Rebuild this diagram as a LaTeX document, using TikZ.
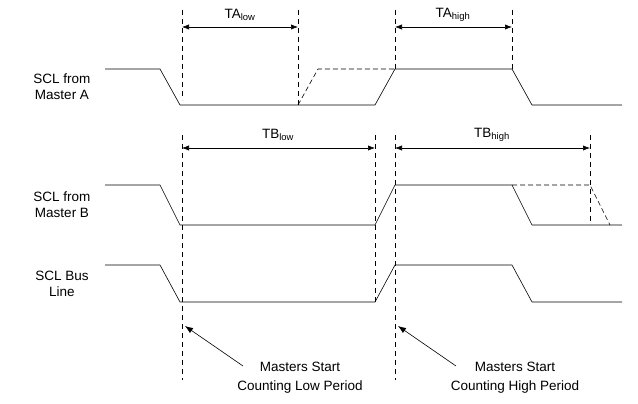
\documentclass[tikz,border=0pt]{standalone}
\usepackage{fontspec}
\setmainfont{Liberation Sans}
\usetikzlibrary{arrows.meta}
\begin{document}
\begin{tikzpicture}[x=1pt,y=-1pt,
  sig/.style={line width=0.6pt},
  dsig/.style={line width=0.6pt,dash pattern=on 5pt off 3pt},
  vl/.style={line width=0.6pt,dash pattern=on 5pt off 4pt},
  dim/.style={line width=0.6pt,{Latex[length=7pt]}-{Latex[length=7pt]}},
  lbl/.style={font=\fontsize{13.5}{16}\selectfont,align=center},
  note/.style={font=\fontsize{13.5}{19}\selectfont,align=center},
  pt/.style={line width=0.6pt,-{Latex[length=8pt]}}]
\useasboundingbox (0,0) rectangle (638,404);
% labels
\node[lbl] (la) at (62,87) {SCL from\\Master A};
\node[lbl] (lb) at (62,205) {SCL from\\Master B};
\node[lbl] (lc) at (62,284) {SCL Bus\\Line};
% signals
\draw[sig] (105,69) -- (160,69) -- (180,105) -- (375,105) -- (395,69) -- (512,69) -- (532,105) -- (622,105);
\draw[dsig] (298,105) -- (318,69) -- (395,69);
\draw[sig] (105,185) -- (160,185) -- (180,225) -- (375,225) -- (395,185) -- (512,185) -- (532,225) -- (622,225);
\draw[dsig] (512,185) -- (590,185) -- (610,225);
\draw[sig] (105,265) -- (160,265) -- (180,302) -- (375,302) -- (395,265) -- (512,265) -- (532,302) -- (622,302);
% vertical dashed lines
\draw[vl] (182,10) -- (182,100);
\draw[vl] (298,10) -- (298,105);
\draw[vl] (395,10) -- (395,69);
\draw[vl] (512,10) -- (512,69);
\draw[vl] (182,135) -- (182,380);
\draw[vl] (375,135) -- (375,302);
\draw[vl] (395,135) -- (395,380);
\draw[vl] (590,135) -- (590,225);
% dimensions
\coordinate (a1) at (182,27); \coordinate (a2) at (298,27);
\coordinate (a3) at (395,27); \coordinate (a4) at (512,27);
\coordinate (b1) at (182,148); \coordinate (b2) at (375,148);
\coordinate (b3) at (395,148); \coordinate (b4) at (590,148);
\draw[dim] (a1) -- (a2);
\draw[dim] (a3) -- (a4);
\draw[dim] (b1) -- (b2);
\draw[dim] (b3) -- (b4);
\node[lbl] (ta) at (240,15) {TA\textsubscript{low}};
\node[lbl] (tah) at (453,15) {TA\textsubscript{high}};
\node[lbl] (tb) at (278,135) {TB\textsubscript{low}};
\node[lbl] (tbh) at (492,135) {TB\textsubscript{high}};
% notes
\node[note] (n1) at (300,378) {Masters Start\\Counting Low Period};
\node[note] (n2) at (515,378) {Masters Start\\Counting High Period};
\coordinate (p1) at (185,326); \coordinate (p2) at (398,326);
\draw[pt] (243,366) -- (p1);
\draw[pt] (456,366) -- (p2);
\end{tikzpicture}
\end{document}
